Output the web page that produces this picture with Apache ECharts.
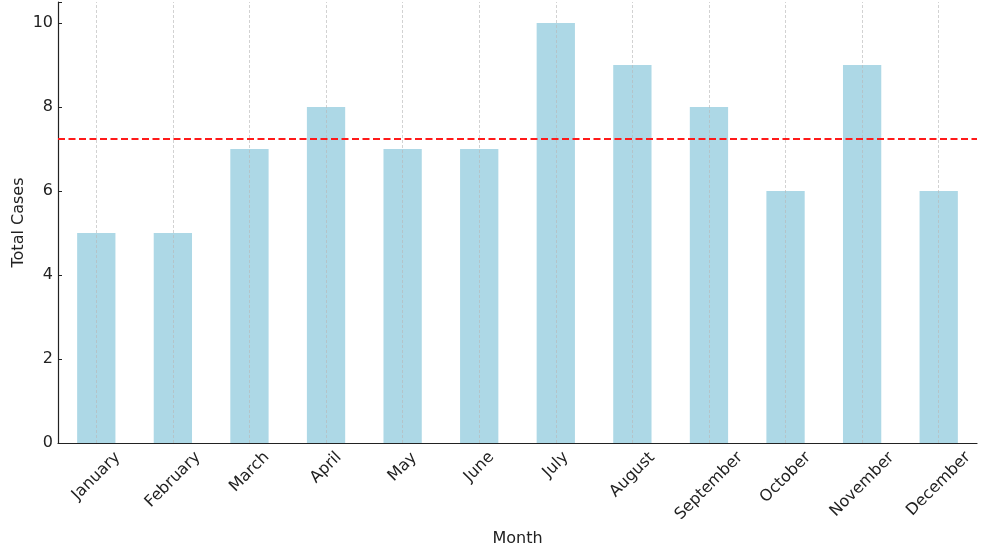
<!DOCTYPE html>
<html><head><meta charset="utf-8">
<script src="https://cdn.jsdelivr.net/npm/echarts@6/dist/echarts.min.js"></script>
<style>html,body{margin:0;padding:0;background:#fff}#c{width:986px;height:557px}</style>
</head><body><div id="c"></div>
<script>
const months = ["January","February","March","April","May","June","July","August","September","October","November","December"];
const totalCases = [5,5,7,8,7,7,10,9,8,6,9,6];
const meanValue = 7.25;
const yTicks = [0,2,4,6,8,10];

const font = "DejaVu Sans";
const fs = 16;
const cv = document.createElement('canvas').getContext('2d');
cv.font = fs + 'px "' + font + '"';
// per-label spacers: place each rotated label so its bounding box is centred under the tick
const rich = {t: {fontFamily: font, fontSize: fs, color: '#222', lineHeight: 19}};
months.forEach((m, i) => {
  const w = cv.measureText(m).width;
  rich['s' + i] = {fontSize: 1, lineHeight: Math.round(w * 0.5)};
  rich['r' + i] = {fontSize: fs, lineHeight: 19, width: Math.round(w * 0.5)};
});

const chart = echarts.init(document.getElementById('c'));
chart.setOption({
  animation: false,
  backgroundColor: '#fff',
  grid: {left: 58, right: 9, top: 2, bottom: 114, containLabel: false, outerBoundsMode: 'none'},
  xAxis: {
    type: 'category', data: months,
    name: 'Month', nameLocation: 'middle', nameGap: 88, nameMoveOverlap: false,
    nameTextStyle: {fontFamily: font, fontSize: fs, color: '#222'},
    axisLine: {lineStyle: {color: '#222', width: 1.2}},
    axisTick: {show: true, inside: true, alignWithLabel: true, length: 4, lineStyle: {color: '#222'}},
    axisLabel: {rotate: 45, fontFamily: font, fontSize: fs, color: '#222', margin: 12, interval: 0,
      align: 'center', verticalAlign: 'middle', rich: rich,
      formatter: (v, i) => '{s' + i + '| }\n{t|' + v + '}{r' + i + '| }'},
    splitLine: {show: false}
  },
  yAxis: {
    type: 'value', min: 0, max: 10.5, interval: 2,
    name: 'Total Cases', nameLocation: 'middle', nameGap: 31, nameMoveOverlap: false,
    nameTextStyle: {fontFamily: font, fontSize: fs, color: '#222'},
    axisLine: {show: true, lineStyle: {color: '#222', width: 1.2}},
    axisTick: {show: true, inside: true, length: 4, lineStyle: {color: '#222'}},
    axisLabel: {fontFamily: font, fontSize: fs, color: '#222', margin: 5,
      formatter: v => yTicks.includes(v) ? String(v) : ''},
    splitLine: {show: false}
  },
  series: [{
    type: 'bar', data: totalCases, barWidth: '50%', z: 2,
    itemStyle: {color: '#ADD8E6'}
  }, {
    type: 'line', data: [], z: 3, silent: true,
    markLine: {
      symbol: 'none', silent: true, label: {show: false},
      lineStyle: {color: '#b8b8b8', type: [3, 2], width: 0.8, opacity: 0.8},
      data: months.map(m => ({xAxis: m}))
    }
  }, {
    type: 'line', data: [], z: 4, silent: true,
    markLine: {
      symbol: 'none', silent: true, label: {show: false},
      lineStyle: {color: '#ff1a1a', type: [7, 3.5], width: 2},
      data: [{yAxis: meanValue}]
    }
  }]
});
</script></body></html>
